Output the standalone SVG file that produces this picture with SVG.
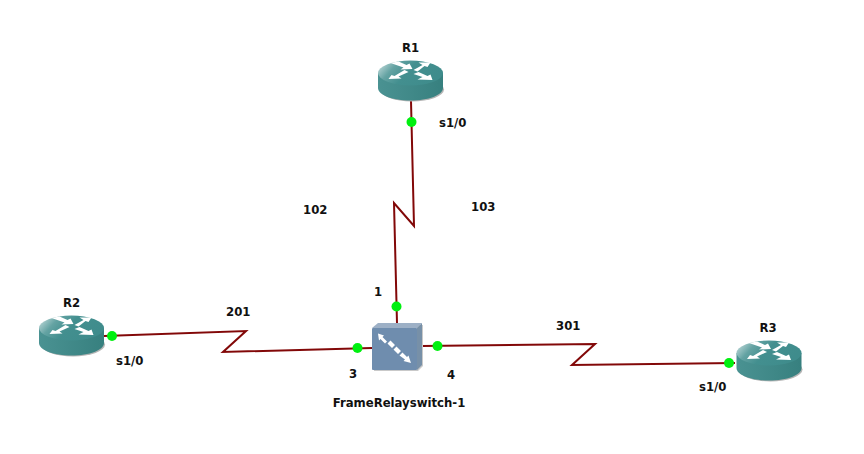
<svg xmlns="http://www.w3.org/2000/svg" width="864" height="454" viewBox="0 0 864 454">
<style>
.t{font-family:"DejaVu Sans","Liberation Sans",sans-serif;font-weight:700;font-size:11.7px;fill:#111}
.m{text-anchor:middle}
.l{fill:none;stroke:#820808;stroke-width:2}
.d{fill:#00f010}
</style>
<defs>
<linearGradient id="top" x1="0" y1="0" x2="1" y2="0.35"><stop offset="0" stop-color="#d5e6e6"/><stop offset="0.3" stop-color="#64a3a3"/><stop offset="0.55" stop-color="#438f8f"/><stop offset="1" stop-color="#3f8c8c"/></linearGradient>
<linearGradient id="side" x1="0" y1="0" x2="1" y2="0"><stop offset="0" stop-color="#4a9292"/><stop offset="1" stop-color="#37807f"/></linearGradient>
<g id="router">
<ellipse cx="1.500" cy="16.500" rx="32" ry="12" fill="#b5b5b5"/>
<path d="M-32.500 0V15C-32.500 22 -18 27.500 0 27.500S32.500 22 32.500 15V0Z" fill="url(#side)"/>
<ellipse cx="0" cy="0" rx="32.500" ry="12.500" fill="url(#top)"/>
<path d="M-20-10L-12-11.500L-4-8L-1-9.500L2-4L-10-3.500L-7-5.500ZM3-3L12-8L8-10.500L20-10.500L17-6L14-7L7-1.500ZM-2-1L-12 3.500L-9 5.500L-22 6L-19 2L-16 3L-6-3ZM3 1L8-1L17 3L20 1.500L22 7L7 6.500L12 4Z" fill="#fff"/>
</g>
</defs>
<g id="connectors">
<polyline class="l" points="411,101 414,226 394,203 397,323"/>
<polyline class="l" points="104,336 246,331 223,352 372,348"/>
<polyline class="l" points="422,346 595,344 572,365 735,363"/>
</g>
<g id="R1"><use href="#router" x="410.500" y="73"/><text class="t m" x="410.500" y="52">R1</text></g>
<g id="R2"><use href="#router" x="71.500" y="328"/><text class="t m" x="71.500" y="307">R2</text></g>
<g id="R3"><use href="#router" x="769" y="353"/><text class="t m" x="768" y="332">R3</text></g>
<g id="FrameRelayswitch-1">
<path d="M374 371H418L423 366V325H378Z" fill="#c9c9c9"/>
<path d="M372 328L378 323H422L417 328Z" fill="#9db0c6"/>
<path d="M417 328L422 323V365L417 370Z" fill="#7790a8"/>
<rect x="372" y="328" width="45" height="42" rx="1" fill="#6f8dae"/>
<path d="M378 333.500L384 335.500L382.500 337L387 341.500L385 343.500L380.500 339L379 340.500ZM387.500 343.500L390.500 340.500L395 345L392 348ZM393.500 349.500L396.500 346.500L401 351L398 354ZM399.500 355.500L402.500 352.500L407 357L408.500 355.500L411 363L403.500 361L405 359.500Z" fill="#fff"/>
<text class="t m" x="399" y="407">FrameRelayswitch-1</text>
</g>
<g id="dots">
<circle class="d" cx="411.500" cy="122" r="5"/>
<circle class="d" cx="112" cy="336" r="5"/>
<circle class="d" cx="396.500" cy="306.500" r="5"/>
<circle class="d" cx="357.500" cy="348" r="5"/>
<circle class="d" cx="437.500" cy="346" r="5"/>
<circle class="d" cx="729" cy="363" r="5"/>
</g>
<g id="labels">
<text class="t" x="439" y="127">s1/0</text>
<text class="t" x="116" y="365">s1/0</text>
<text class="t" x="699" y="391">s1/0</text>
<text class="t" x="303" y="214">102</text>
<text class="t" x="471" y="211">103</text>
<text class="t" x="226" y="316">201</text>
<text class="t" x="556" y="330">301</text>
<text class="t" x="374" y="296">1</text>
<text class="t" x="349" y="378">3</text>
<text class="t" x="447" y="379">4</text>
</g>
</svg>
